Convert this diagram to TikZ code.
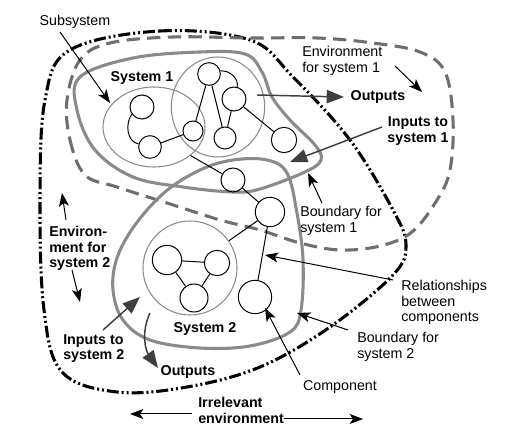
\documentclass[tikz,border=0pt]{standalone}
\usepackage{fontspec}
\setmainfont{Liberation Sans}
\usetikzlibrary{arrows.meta,shapes.geometric}
\definecolor{sysgray}{HTML}{8A8A8A}
\definecolor{envgray}{HTML}{6E6E6E}
\definecolor{subgray}{HTML}{8C8C8C}
\definecolor{headgray}{HTML}{3F3F3F}
\begin{document}
\begin{tikzpicture}[x=0.75pt,y=-0.75pt,
  every node/.style={font=\fontsize{10.7}{11.6}\selectfont},
  lbl/.style={inner sep=0pt,align=left},
  blbl/.style={inner sep=0pt,align=left,font=\fontsize{10.7}{11.6}\selectfont\bfseries},
  comp/.style={circle,draw=black,line width=0.75pt,inner sep=0pt,minimum size=#1},
  subsys/.style={ellipse,draw=subgray,line width=0.8pt,inner sep=0pt},
  rel/.style={draw=black,line width=0.75pt},
  sysb/.style={draw=sysgray,line width=2.3pt},
  envb/.style={draw=envgray,line width=2.3pt,dash pattern=on 10pt off 5.5pt},
  irrb/.style={draw=black,line width=2.3pt,dash pattern=on 9pt off 2.2pt on 1.5pt off 2.2pt on 1.5pt off 2.2pt},
  barrow/.style={draw=black,line width=0.75pt,-{Stealth[length=10pt,width=7.5pt,inset=2.5pt]}},
  garrow/.style={draw=headgray,line width=1.1pt,-{Triangle[length=13pt,width=10pt,fill=headgray]}},
]
\useasboundingbox (0,0) rectangle (515,445);
\fill[white] (0,0) rectangle (515,445);

% outer (irrelevant environment) boundary
\draw[irrb] plot[smooth cycle,tension=0.6] coordinates {(70,50) (160,31) (250,40) (293,77) (350,140) (393,210) (406,245) (393,275) (330,327) (260,367) (187,387) (117,392) (62,372) (44,310) (40,200) (45,100)};

% environment for system 1 (dashed)
\draw[envb] plot[smooth cycle,tension=0.6] coordinates {(67,100) (70,140) (85,175) (117,187) (167,203) (220,220) (260,230) (300,243) (340,250) (380,246) (412,232) (437,200) (450,170) (453,120) (445,72) (420,52) (373,43) (317,38) (250,38) (173,37) (110,43) (80,60)};

% system 1 boundary
\draw[sysb] plot[smooth cycle,tension=0.6] coordinates {(80,77) (133,58) (200,52) (245,54) (262,72) (272,97) (290,120) (315,145) (321,160) (305,172) (260,189) (233,192) (183,187) (133,177) (95,150) (77,110)};

% system 2 boundary
\draw[sysb] plot[smooth cycle,tension=0.6] coordinates {(200,170) (233,160) (267,160) (287,173) (297,213) (303,260) (301,310) (290,332) (250,346) (200,348) (150,340) (123,320) (113,290) (117,258) (135,225) (165,192)};

% subsystems
\node[subsys,minimum width=76.5pt,minimum height=60pt] (sA) at (154,127) {};
\node[subsys,minimum width=70pt,minimum height=75pt] (sB) at (218,107) {};
\node[subsys,minimum width=70.5pt,minimum height=70.5pt] (sC) at (190,268) {};

% components
\node[comp=18pt] (c1) at (142,107) {};
\node[comp=17pt] (c2) at (150,147) {};
\node[comp=15pt] (c3) at (193,131) {};
\node[comp=17pt] (c4) at (209,74) {};
\node[comp=18pt] (c5) at (234,99) {};
\node[comp=16.5pt] (c6) at (225,138) {};
\node[comp=19pt] (c7) at (284,140) {};
\node[comp=18pt] (c8) at (233,180) {};
\node[comp=22pt] (c9) at (270,212) {};
\node[comp=22pt] (d1) at (167,260) {};
\node[comp=19pt] (d2) at (217,263) {};
\node[comp=21pt] (d3) at (194,298) {};
\node[comp=25pt] (d4) at (255,297) {};

% relationships
\draw[rel] (c1.215) to[out=235,in=170] (c2.165);
\draw[rel] (c2) -- (c3);
\draw[rel] (c3) -- (c4);
\draw[rel] (c4) -- (c6);
\draw[rel] (c4.15) to[out=5,in=80] (c5.75);
\draw[rel] (c5) -- (c6);
\draw[rel] (c5) -- (c7);
\draw[rel] (sA.-38) -- (c8);
\draw[rel] (c8) -- (c9);
\draw[rel] (c9) -- (sC);
\draw[rel] (c9) -- (d4);
\draw[rel] (d1) -- (d2);
\draw[rel] (d1) -- (d3);
\draw[rel] (d2) -- (d3);

% labels
\node[blbl] (sys1) at (142,78) {System 1};
\node[blbl] (sys2) at (205,329) {System 2};

\node[lbl] (subsys) at (75,22) {Subsystem};
\coordinate (subS) at (60,32);
\coordinate (subE) at (110,103);
\draw[barrow] (subS) -- (subE);

\node[lbl,anchor=north west] (env1) at (302,46) {Environment\\for system 1};
\coordinate (env1S) at (395,66);
\coordinate (env1E) at (422,92);
\draw[barrow] (env1S) -- (env1E);

\node[blbl] (out1) at (378,97) {Outputs};
\coordinate (out1S) at (257,95);
\coordinate (out1E) at (344,97);
\draw[garrow] (out1S) -- (out1E);

\node[blbl,align=center] (in1) at (418,131) {Inputs to\\system 1};
\coordinate (in1S) at (382,127);
\coordinate (in1E) at (290,162);
\draw[garrow] (in1S) -- (in1E);

\node[lbl,anchor=north west] (bnd1) at (300,206) {Boundary for\\system 1};
\coordinate (bnd1S) at (322,203);
\coordinate (bnd1E) at (308,173);
\draw[barrow] (bnd1S) -- (bnd1E);

\node[lbl,anchor=north west] (relat) at (401,280) {Relationships\\between\\components};
\coordinate (relS) at (393,280);
\coordinate (relE) at (265,255);
\draw[barrow] (relS) -- (relE);

\node[lbl,anchor=north west] (bnd2) at (357,332) {Boundary for\\system 2};
\coordinate (bnd2S) at (348,330);
\coordinate (bnd2E) at (297,313);
\draw[barrow] (bnd2S) -- (bnd2E);

\node[lbl] (compl) at (340,387) {Component};
\coordinate (compS) at (300,375);
\coordinate (compE) at (265,308);
\draw[barrow] (compS) -- (compE);

\node[blbl,anchor=north west] (env2) at (49,226) {Environ-\\ment for\\system 2};
\coordinate (env2aS) at (66,220);
\coordinate (env2aE) at (62,193);
\draw[barrow] (env2aS) -- (env2aE);
\coordinate (env2bS) at (72,270);
\coordinate (env2bE) at (80,302);
\draw[barrow] (env2bS) -- (env2bE);

\node[blbl,anchor=north west] (in2) at (63,334) {Inputs to\\system 2};
\coordinate (in2S) at (103,330);
\coordinate (in2E) at (140,297);
\draw[garrow] (in2S) -- (in2E);

\node[blbl] (out2) at (188,372) {Outputs};
\coordinate (out2S) at (150,313);
\coordinate (out2E) at (158,368);
\draw[garrow] (out2S) to[out=245,in=125] (out2E);

\node[blbl,anchor=north west] (irr) at (198,397) {Irrelevant\\environment};
\coordinate (irrL) at (130,414);
\coordinate (irrR) at (363,419);
\draw[barrow] (irr.west |- irrL) ++(-6,0) coordinate (irrLS) -- (irrL);
\draw[barrow] (irr.east |- irrR) -- (irrR);
\end{tikzpicture}
\end{document}
